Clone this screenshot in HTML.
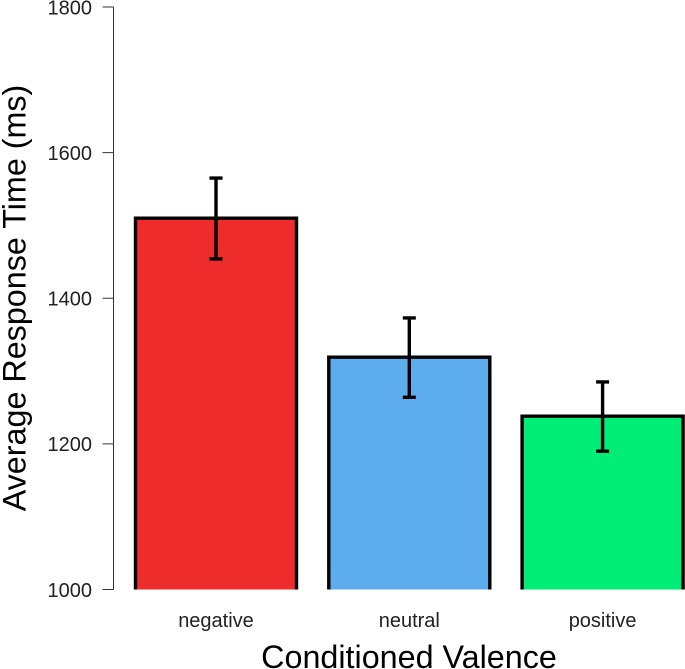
<!DOCTYPE html>
<html lang="en">
<head>
<meta charset="utf-8">
<title>Average Response Time by Conditioned Valence</title>
<style>
html,body{margin:0;padding:0;background:#fff;width:685px;height:669px;overflow:hidden}
svg{display:block;font-family:"Liberation Sans",Arial,sans-serif}
</style>
</head>
<body>
<svg id="chart" width="685" height="669" viewBox="0 0 685 669" xmlns="http://www.w3.org/2000/svg"></svg>
<script>
const categories = ['negative', 'neutral', 'positive'];
const means = [1510, 1319, 1238];
const errorLower = [1454, 1264, 1190];
const errorUpper = [1565, 1373, 1285];
const barColors = ['#EE2C2C', '#5CACEE', '#00EE76'];
const yTicks = [1000, 1200, 1400, 1600, 1800];

const svg = document.getElementById('chart');
const NS = 'http://www.w3.org/2000/svg';
const yMin = 1000, yMax = 1800, yBottom = 589.5, yTop = 7;
const yScale = v => yBottom - (v - yMin) / (yMax - yMin) * (yBottom - yTop);
const bandStart = 135.5, bandStep = 193.3, barWidth = 161;
const xLeft = i => bandStart + i * bandStep;
const xCenter = i => xLeft(i) + barWidth / 2;

function make(tag, attrs, parent) {
  const el = document.createElementNS(NS, tag);
  for (const k in attrs) el.setAttribute(k, attrs[k]);
  (parent || svg).appendChild(el);
  return el;
}

// Bars
categories.forEach((c, i) => {
  const top = yScale(means[i]);
  const x = xLeft(i);
  const fill = make('rect', {x: x - 1, y: top, width: barWidth + 2, height: yBottom - top, fill: barColors[i]});
  
  
  const outline = make('path', {
    d: 'M' + x + ' ' + yBottom + 'V' + top + 'H' + (x + barWidth) + 'V' + yBottom,
    fill: 'none', stroke: '#000', 'stroke-width': 3.4
  });
  
  
});

// Error bars
categories.forEach((c, i) => {
  const cx = xCenter(i), lo = yScale(errorLower[i]), hi = yScale(errorUpper[i]);
  const err = make('path', {
    d: 'M' + cx + ' ' + lo + 'V' + hi + 'M' + (cx - 6.5) + ' ' + hi + 'H' + (cx + 6.5) + 'M' + (cx - 6.5) + ' ' + lo + 'H' + (cx + 6.5),
    fill: 'none', stroke: '#000', 'stroke-width': 3.4
  });
  
  
});

// Y axis
const axis = make('path', {
  d: 'M113.5 ' + yTop + 'V' + yBottom,
  fill: 'none', stroke: '#333', 'stroke-width': 1
});



yTicks.forEach(t => {
  const y = yScale(t);
  const tick = make('line', {x1: 102.5, x2: 113.5, y1: y, y2: y, stroke: '#333', 'stroke-width': 1});
  
  
  const label = make('text', {x: 92, y: y + 7.3, 'text-anchor': 'end', 'font-size': 20, fill: '#222'});
  label.textContent = t;
  
  
});

// Category labels
categories.forEach((c, i) => {
  const label = make('text', {x: xCenter(i), y: 627, 'text-anchor': 'middle', 'font-size': 20, fill: '#222'});
  label.textContent = c;
  
  
});

// Axis titles
const xTitle = make('text', {x: 409, y: 668, 'text-anchor': 'middle', 'font-size': 32.3, fill: '#000'});
xTitle.textContent = 'Conditioned Valence';



const yTitle = make('text', {x: 0, y: 0, transform: 'translate(25.5 298) rotate(-90)', 'text-anchor': 'middle', 'font-size': 32.3, fill: '#000'});
yTitle.textContent = 'Average Response Time (ms)';


</script>
</body>
</html>
